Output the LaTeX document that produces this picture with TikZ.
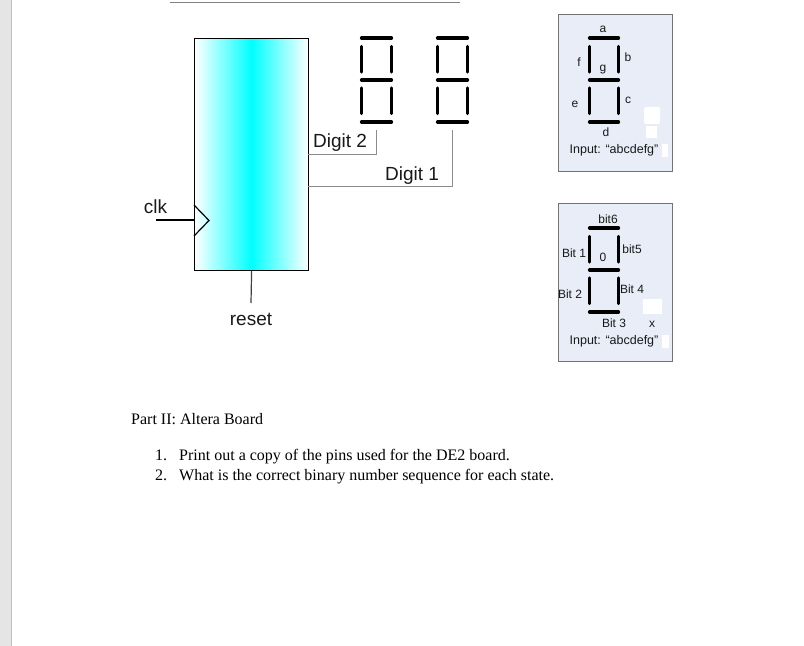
\documentclass[tikz,border=0pt]{standalone}
\usepackage{fontspec}
\setmainfont{Liberation Sans}
\newfontfamily\bodyfont{Liberation Serif}
\newcommand{\sevenseg}[5]{% left right top mid bottom
  \draw[seg] (#1+1.5,#3) -- (#2-1.5,#3);
  \draw[seg] (#1+1.5,#4) -- (#2-1.5,#4);
  \draw[seg] (#1+1.5,#5) -- (#2-1.5,#5);
  \pgfmathsetmacro{\lx}{#1+1.5}\pgfmathsetmacro{\rx}{#2-1.5}
  \pgfmathsetmacro{\ya}{#3+8.5}\pgfmathsetmacro{\yb}{#4-8}
  \pgfmathsetmacro{\yc}{#4+8}\pgfmathsetmacro{\yd}{#5-8.5}
  \draw[seg] (\lx,\ya) -- (\lx,\yb);
  \draw[seg] (\rx,\ya) -- (\rx,\yb);
  \draw[seg] (\lx,\yc) -- (\lx,\yd);
  \draw[seg] (\rx,\yc) -- (\rx,\yd);
}
\tikzset{
  seg/.style={line width=3.2bp,line cap=round,black},
  big/.style={anchor=base,inner sep=0pt,text=black!90,font=\fontsize{19bp}{22bp}\selectfont},
  small/.style={anchor=base,inner sep=0pt,text=black!90,font=\fontsize{12bp}{14bp}\selectfont},
  inp/.style={anchor=base,inner sep=0pt,text=black!90,font=\fontsize{12.5bp}{15bp}\selectfont},
  body/.style={anchor=base west,inner sep=0pt,font=\bodyfont\fontsize{16bp}{18bp}\selectfont},
  panel/.style={draw=black!55,line width=0.9bp,fill=panelblue},
  patch/.style={fill=white,draw=none},
  thin wire/.style={draw=black!45,line width=1bp},
  dark wire/.style={draw=black!75,line width=1.2bp}
}
\definecolor{panelblue}{HTML}{E8EDF8}
\begin{document}
\begin{tikzpicture}[x=1bp,y=-1bp]
\useasboundingbox (0,0) rectangle (804,646);
\fill[white] (0,0) rectangle (804,646);
\fill[black!10] (0,0) rectangle (11,646);
\draw[black!25,line width=0.8bp] (11.5,0) -- (11.5,646);
\coordinate (ruleL) at (170,2.5);
\coordinate (ruleR) at (460,2.5);
\draw[black!50,line width=0.9bp] (ruleL) -- (ruleR);

% register block
\node[inner sep=0pt,minimum width=114bp,minimum height=232bp,draw=black,line width=1.2bp,
  left color=white,right color=white,middle color=cyan,anchor=north west] (reg) at (194,38) {};
\coordinate (clkIn) at (156,220);
\coordinate (clkA) at (194,205);
\coordinate (clkB) at (209,220.5);
\coordinate (clkC) at (194,236);
\coordinate (clkD) at (194,220);
\draw[dark wire,draw=black] (clkIn) -- (clkD);
\draw[dark wire,draw=black] (clkA) -- (clkB) -- (clkC);
\coordinate (resetEnd) at (251,303);
\draw[dark wire] (reg.south) -- (resetEnd);
\node[big] (clk) at (155.5,213.5) {clk};
\node[big] (reset) at (251,325.5) {reset};

% displays
\sevenseg{360}{393}{38}{80}{122}
\sevenseg{436}{469}{38}{80}{122}
\coordinate (d2a) at (308,154.5);
\coordinate (d2b) at (376,154.5);
\coordinate (d2c) at (376,130);
\coordinate (d1a) at (308,187);
\coordinate (d1b) at (452,187);
\coordinate (d1c) at (452,130);
\draw[thin wire] (d2a) -- (d2b) -- (d2c);
\draw[thin wire] (d1a) -- (d1b) -- (d1c);
\node[big] (dig2) at (340,147.5) {Digit 2};
\node[big] (dig1) at (412,180.5) {Digit 1};

% panel 1
\node[panel,inner sep=0pt,minimum width=114bp,minimum height=157bp,anchor=north west] (p1) at (558,14) {};
\sevenseg{588}{620}{38}{80}{122}
\node[small] (la) at (603,33) {a};
\node[small] (lb) at (628,62) {b};
\node[small] (lf) at (579,67) {f};
\node[small] (lg) at (603,72) {g};
\node[small] (le) at (575,108) {e};
\node[small] (lc) at (628,104) {c};
\node[small] (ld) at (606,137) {d};
\node[inp] (in1) at (614,153.5) {Input: “abcdefg”};
\fill[patch,rounded corners=1.5bp] (644,107) rectangle (660,124);
\fill[patch] (646,126) rectangle (657,138);
\fill[patch] (662,144) rectangle (668,157);

% panel 2
\node[panel,inner sep=0pt,minimum width=114bp,minimum height=157.5bp,anchor=north west] (p2) at (558,203.5) {};
\sevenseg{588}{620}{228}{270}{312}
\node[small] (b6) at (608,224) {bit6};
\node[small] (b1) at (574,257) {Bit 1};
\node[small] (b0) at (603,261) {0};
\node[small] (b5) at (632,253) {bit5};
\node[small] (b2) at (570,298) {Bit 2};
\node[small] (b4) at (632,293) {Bit 4};
\node[small] (b3) at (614,327) {Bit 3};
\node[small] (bx) at (652,327) {x};
\node[inp] (in2) at (614,344) {Input: “abcdefg”};
\fill[patch] (643,299) rectangle (662,314);
\fill[patch] (662,335) rectangle (669,348);

% body text
\node[body] (part) at (131,424.5) {Part II: Altera Board};
\node[body] (n1) at (155,460.5) {1.};
\node[body] (t1) at (179,460.5) {Print out a copy of the pins used for the DE2 board.};
\node[body] (n2) at (155,480) {2.};
\node[body] (t2) at (179,480) {What is the correct binary number sequence for each state.};
\end{tikzpicture}
\end{document}
